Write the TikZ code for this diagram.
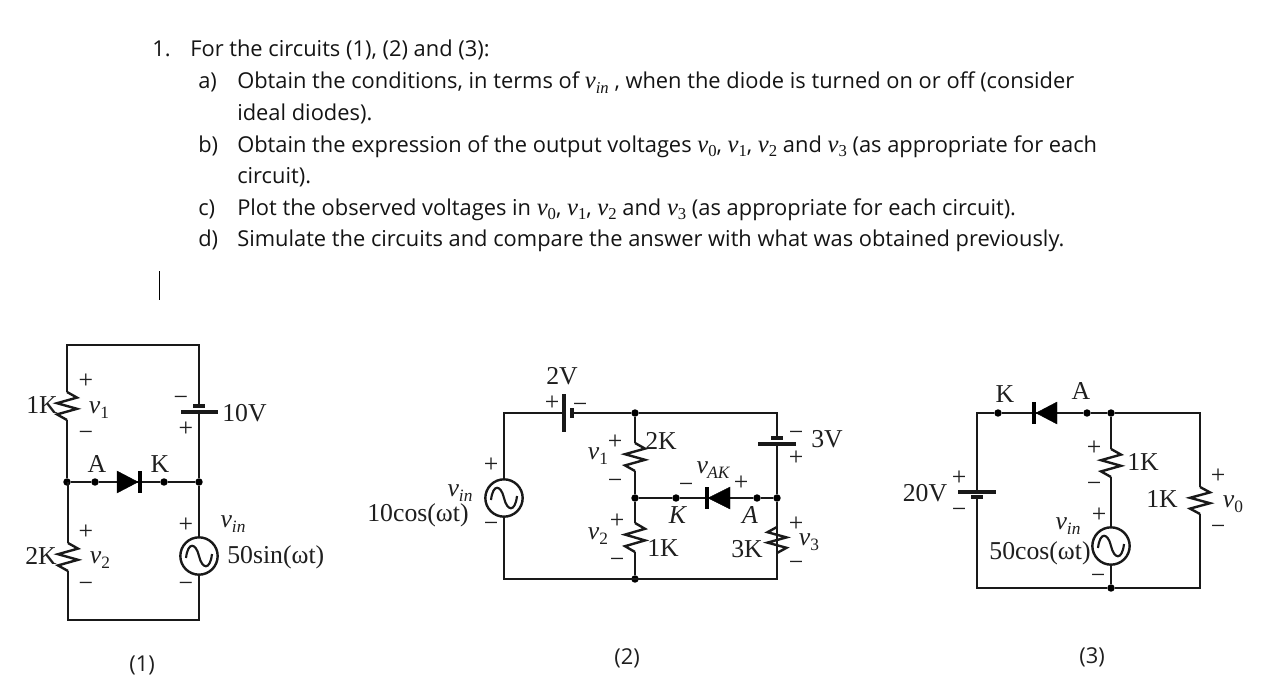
\documentclass[tikz,border=0pt]{standalone}
\usepackage{fontspec}
\setmainfont{Liberation Serif}
\newfontfamily\bodyfont{Open Sans}
\newfontfamily\capfont{Liberation Serif}
\usetikzlibrary{arrows.meta}
\newcommand{\bodyv}{{\capfont\itshape\fontsize{18.5}{18}\selectfont v}}
\newcommand{\bodysub}[2]{\bodyv\raisebox{-.2em}{\fontsize{12.5}{12}\selectfont\capfont\itshape #2}}
\newcommand{\bodydig}[1]{\bodyv\raisebox{-.2em}{\fontsize{12.5}{12}\selectfont\capfont #1}}
\newcommand{\lblsub}[2]{\textit{#1}\raisebox{-.2em}{\fontsize{13}{13}\selectfont\itshape #2}}
\newcommand{\lbldig}[2]{\textit{#1}\raisebox{-.2em}{\fontsize{13}{13}\selectfont #2}}
\tikzset{
  wire/.style={line width=1.3pt,black!90,line join=miter,line cap=butt},
  plate/.style={line width=2.5pt,black!90},
  junction/.style={circle,fill=black,inner sep=0pt,minimum size=5.6pt},
  acsource/.style={circle,draw=black!90,line width=1.8pt,minimum size=28pt,inner sep=0pt,fill=none},
  sinewave/.style={line width=1.6pt,black!90},
  resbody/.style={line width=1.8pt,black!90,line join=miter},
  diodefill/.style={fill=black,draw=black,line width=.3pt},
  bodyline/.style={anchor=base west,inner sep=0pt,font=\bodyfont\fontsize{16.4}{18}\selectfont,text=black!92},
  lbl/.style={inner sep=0pt,font=\fontsize{19.3}{21}\selectfont,text=black!88},
  minuslbl/.style={lbl,yshift=-4.4pt},
  pluslbl/.style={lbl,yshift=-.6pt},
  caption/.style={inner sep=0pt,font=\bodyfont\fontsize{16.4}{18}\selectfont,text=black!88},
}
% vertical resistor: name, x, ytop, ybottom, half width
\newcommand{\resv}[5][10]{%
  \coordinate (#2-t) at (#3,#4);\coordinate (#2-b) at (#3,#5);
  \draw[resbody] (#2-t) -- ++(#1,{(#5-#4)*0.2}) -- ++({-2*#1},{(#5-#4)*0.2}) -- ++({2*#1},{(#5-#4)*0.2}) -- ++({-2*#1},{(#5-#4)*0.2}) -- (#2-b);}
% AC source
\newcommand{\acsrc}[3]{%
  \node[acsource] (#1) at (#2,#3) {};
  \draw[sinewave,shift={(#2,#3)}] (-13,2) .. controls (-11,-15) and (-3,-13) .. (0,0) .. controls (3,13) and (11,15) .. (13,-2);}
\begin{document}
\begin{tikzpicture}[x=0.75pt,y=-0.75pt]
\useasboundingbox (0,0) rectangle (1284,692);
\fill[white] (0,0) rectangle (1284,692);
% ---- text
\node[bodyline] (n1) at (152,57) {1.};
\node[bodyline] (t0) at (190,57) {For the circuits (1), (2) and (3):};
\node[bodyline] (la) at (198,89) {a)};
\node[bodyline] (ta) at (237,89) {Obtain the conditions, in terms of \bodysub{v}{in} , when the diode is turned on or off (consider};
\node[bodyline] (ta2) at (237,120) {ideal diodes).};
\node[bodyline] (lb) at (198,152) {b)};
\node[bodyline] (tb) at (237,152) {Obtain the expression of the output voltages \bodydig{0}, \bodydig{1}, \bodydig{2} and \bodydig{3} (as appropriate for each};
\node[bodyline] (tb2) at (237,183) {circuit).};
\node[bodyline] (lc) at (198,215) {c)};
\node[bodyline] (tc) at (237,215) {Plot the observed voltages in \bodydig{0}, \bodydig{1}, \bodydig{2} and \bodydig{3} (as appropriate for each circuit).};
\node[bodyline] (ld) at (198,246) {d)};
\node[bodyline] (td) at (237,246) {Simulate the circuits and compare the answer with what was obtained previously.};
\coordinate (cur1) at (159.5,271);\coordinate (cur2) at (159.5,300);
\draw[line width=.7pt,black] (cur1) -- (cur2);
\node[caption] (c1) at (142,665) {(1)};
\node[caption] (c2) at (627,658) {(2)};
\node[caption] (c3) at (1092,657) {(3)};

% ---- circuit 1
\coordinate (a-tl) at (67,345);\coordinate (a-tr) at (199,345);
\coordinate (a-bl) at (68,620);\coordinate (a-br) at (199,620);
\node[junction] (a-j1) at (67,482) {};
\node[junction] (a-A) at (95,482) {};
\node[junction] (a-K) at (164,482) {};
\node[junction] (a-j2) at (199,482) {};
\resv{a-r1}{67}{392}{420}
\resv{a-r2}{68}{543}{571}
\acsrc{a-s}{199}{556}
\coordinate (a-bp) at (199,412);\coordinate (a-bn) at (199,406);
\draw[wire] (a-r1-t) -- (a-tl) -- (a-tr) -- (a-bn);
\draw[wire] (a-bp) -- (a-j2) -- (a-s);
\draw[wire] (a-s) -- (a-br) -- (a-bl) -- (a-r2-b);
\draw[wire] (a-r2-t) -- (68,482) (a-r1-b) -- (a-j1);
\draw[wire] (a-j1) -- (a-A) -- (a-K) -- (a-j2);
\draw[plate] (181,412) -- (218,412);
\draw[plate] (193,406) -- (205,406);
\draw[diodefill] (117,471) -- (138,482) -- (117,493) -- cycle;
\draw[line width=2.6pt,black] (140,471) -- (140,493);
\node[pluslbl] (a1) at (86,380) {+};
\node[minuslbl] (a2) at (86,430) {−};
\node[lbl] (a3) at (42,405) {1K};
\node[lbl] (a4) at (99,410) {\lbldig{v}{1}};
\node[minuslbl] (a5) at (181,395) {−};
\node[pluslbl] (a6) at (186,428) {+};
\node[lbl,anchor=west] (a7) at (222,413) {10V};
\node[lbl] (a8) at (97,464) {A};
\node[lbl] (a9) at (160,464) {K};
\node[pluslbl] (a10) at (86,531) {+};
\node[minuslbl] (a11) at (86,581) {−};
\node[lbl] (a12) at (41,556) {2K};
\node[lbl] (a13) at (100,560) {\lbldig{v}{2}};
\node[pluslbl] (a14) at (186,524) {+};
\node[minuslbl] (a15) at (186,581) {−};
\node[lbl] (a16) at (233,524) {\lblsub{v}{in}};
\node[lbl,anchor=west] (a17) at (227,557) {50sin(ωt)};

% ---- circuit 2
\coordinate (b-tl) at (504,413);\coordinate (b-tr) at (777,413);
\coordinate (b-bl) at (504,579);\coordinate (b-br) at (777,579);
\coordinate (b-b1) at (564,413);\coordinate (b-b2) at (572,413);
\coordinate (b-b3) at (777,438);\coordinate (b-b4) at (777,444);
\node[junction] (b-j1) at (635,413) {};
\node[junction] (b-j2) at (635,498) {};
\node[junction] (b-K) at (676,498) {};
\node[junction] (b-A) at (757,498) {};
\node[junction] (b-j3) at (777,498) {};
\node[junction] (b-j4) at (635,579) {};
\acsrc{b-s}{504}{498}
\resv{b-r1}{635}{443}{471}
\resv{b-r2}{635}{523}{552}
\resv[9.5]{b-r3}{777}{553}{527}
\draw[wire] (b-s) -- (b-tl) -- (b-b1) (b-b2) -- (b-j1) -- (b-tr) -- (b-b3);
\draw[wire] (b-b4) -- (b-j3) -- (b-r3-t);
\draw[wire] (b-r3-b) -- (b-br) -- (b-bl) -- (b-s);
\draw[wire] (b-j1) -- (b-r1-t) (b-r1-b) -- (b-j2) -- (b-r2-t) (b-r2-b) -- (b-j4);
\draw[wire] (b-j2) -- (b-K) -- (b-A) -- (b-j3);
\draw[plate] (564,394) -- (564,432);
\draw[plate] (572,408) -- (572,418);
\draw[plate] (758,444) -- (796,444);
\draw[plate] (771,438) -- (783,438);
\draw[diodefill] (730,487) -- (708,498) -- (730,509) -- cycle;
\draw[line width=2.6pt,black] (707,487) -- (707,509);
\node[lbl] (b1) at (562,376) {2V};
\node[pluslbl] (b2) at (552,402) {+};
\node[minuslbl] (b3) at (580,402) {−};
\node[pluslbl] (b4) at (491,464) {+};
\node[minuslbl] (b5) at (491,521) {−};
\node[lbl] (b6) at (460,493) {\lblsub{v}{in}};
\node[lbl] (b7) at (418,515) {10cos(ωt)};
\node[pluslbl] (b8) at (615,441) {+};
\node[lbl] (b9) at (598,456) {\lbldig{v}{1}};
\node[minuslbl] (b10) at (615,478) {−};
\node[lbl,anchor=west] (b11) at (645,441) {2K};
\node[pluslbl] (b12) at (617,520) {+};
\node[lbl] (b13) at (598,536) {\lbldig{v}{2}};
\node[minuslbl] (b14) at (617,557) {−};
\node[lbl,anchor=west] (b15) at (647,548) {1K};
\node[lbl] (b16) at (713,470) {\lblsub{v}{\kern-.5pt AK}};
\node[minuslbl] (b17) at (686,482) {−};
\node[pluslbl] (b18) at (741,482) {+};
\node[lbl] (b19) at (678,515) {\textit{K}};
\node[lbl] (b20) at (750,515) {\textit{A}};
\node[minuslbl] (b21) at (796,430) {−};
\node[pluslbl] (b22) at (796,457) {+};
\node[lbl] (b23) at (827,439) {3V};
\node[pluslbl] (b24) at (796,523) {+};
\node[minuslbl] (b25) at (796,560) {−};
\node[lbl] (b26) at (747,549) {3K};
\node[lbl] (b27) at (809,542) {\lbldig{v}{3}};

% ---- circuit 3
\coordinate (c-tl) at (977,413);\coordinate (c-tr) at (1200,413);
\coordinate (c-bl) at (977,588);\coordinate (c-br) at (1200,588);
\coordinate (c-b1) at (977,492);\coordinate (c-b2) at (977,497);
\node[junction] (c-K) at (998,413) {};
\node[junction] (c-A) at (1087,413) {};
\node[junction] (c-j1) at (1111,413) {};
\node[junction] (c-j2) at (1111,588) {};
\acsrc{c-s}{1111}{546}
\resv{c-r1}{1111}{449}{477}
\resv{c-r2}{1200}{487}{514}
\draw[wire] (c-b1) -- (c-tl) -- (c-K) -- (c-A) -- (c-j1) -- (c-tr) -- (c-r2-t);
\draw[wire] (c-r2-b) -- (c-br) -- (c-j2) -- (c-bl) -- (c-b2);
\draw[wire] (c-j1) -- (c-r1-t) (c-r1-b) -- (c-s) (c-s) -- (c-j2);
\draw[plate] (958,492) -- (996,492);
\draw[plate] (971,497) -- (983,497);
\draw[diodefill] (1057,402) -- (1036,413) -- (1057,424) -- cycle;
\draw[line width=2.6pt,black] (1034,402) -- (1034,424);
\node[lbl] (c1x) at (1005,394) {K};
\node[lbl] (c2x) at (1081,391) {A};
\node[pluslbl] (c3x) at (959,477) {+};
\node[minuslbl] (c4x) at (959,507) {−};
\node[lbl] (c5x) at (925,493) {20V};
\node[pluslbl] (c6x) at (1094,447) {+};
\node[minuslbl] (c7x) at (1094,481) {−};
\node[lbl,anchor=west] (c8x) at (1127,462) {1K};
\node[pluslbl] (c9x) at (1099,514) {+};
\node[lbl] (c10x) at (1068,526) {\lblsub{v}{in}};
\node[lbl] (c11x) at (1040,553) {50cos(ωt)};
\node[minuslbl] (c12x) at (1098,573) {−};
\node[lbl] (c13x) at (1162,499) {1K};
\node[pluslbl] (c14x) at (1218,475) {+};
\node[minuslbl] (c15x) at (1218,524) {−};
\node[lbl] (c16x) at (1233,504) {\lbldig{v}{0}};
\end{tikzpicture}
\end{document}
